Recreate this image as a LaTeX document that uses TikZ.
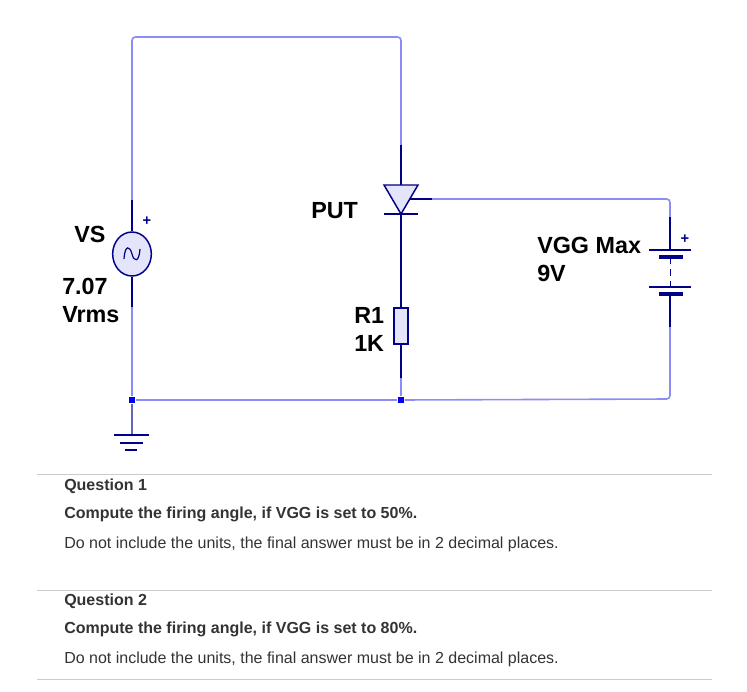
\documentclass[tikz,border=0pt]{standalone}
\usepackage{fontspec}
\setmainfont{Liberation Sans}
\usetikzlibrary{shapes.geometric}
\definecolor{wirecol}{HTML}{8C8CF5}
\definecolor{leadcol}{HTML}{000088}
\definecolor{bodycol}{HTML}{E4E4FA}
\definecolor{rulecol}{HTML}{CCCCCC}
\definecolor{qcol}{HTML}{333333}
\tikzset{
	wire/.style={draw=wirecol, line width=1.2pt, rounded corners=2.5pt},
	lead/.style={draw=leadcol, line width=1.1pt},
	plate/.style={draw=leadcol, line width=1.1pt},
	thickplate/.style={draw=leadcol, line width=3pt},
	dot/.style={fill=blue, inner sep=0pt, minimum size=5pt},
	partlabel/.style={anchor=base west, inner sep=0pt, font=\fontsize{17.5}{20}\selectfont\bfseries, text=black},
	polarity/.style={inner sep=0pt, font=\fontsize{11}{12}\selectfont\bfseries, text=leadcol},
	qhead/.style={anchor=base west, inner sep=0pt, font=\fontsize{12}{14}\selectfont\bfseries, text=qcol},
	qtext/.style={anchor=base west, inner sep=0pt, font=\fontsize{12}{14}\selectfont, text=qcol},
}
\begin{document}
\begin{tikzpicture}[x=0.75pt, y=-0.75pt]
	\useasboundingbox (0,0) rectangle (747,692);
	
	% Junctions
	\node[dot] (Jleft)  at (132,400) {};
	\node[dot] (Jright) at (401,400) {};
	
	% Parts
	\node[ellipse, draw=leadcol, fill=bodycol, line width=1.1pt, inner sep=0pt,
	minimum width=29pt, minimum height=33pt] (VS) at (132,254) {};
	\node[rectangle, draw=leadcol, fill=bodycol, line width=1.1pt, inner sep=0pt,
	minimum width=10.5pt, minimum height=27pt] (R1) at (401,326) {};
	
	\path % Ends of the leads, and the wire corners
	(132,37)  coordinate (TL)
	(401,37)  coordinate (TR)
	(670,199) coordinate (GR)
	(670,399) coordinate (BR)
	(132,200) coordinate (VStop)
	(132,307) coordinate (VSbot)
	(401,145) coordinate (PUTin)
	(401,185) coordinate (PUTtop)
	(401,214) coordinate (PUTbot)
	(410,199) coordinate (PUTgate)
	(432,199) coordinate (PUTgateend)
	(401,378) coordinate (R1end)
	(670,217) coordinate (BATtop)
	(670,327) coordinate (BATbot)
	(132,435) coordinate (GND)
	;
	
	% Light wires
	\draw[wire] (VStop) -- (TL) -- (TR) -- (PUTin);
	\draw[wire] (PUTgateend) -- (GR) -- (BATtop);
	\draw[wire] (BATbot) -- (BR) -- (Jright);
	\draw[wire] (Jright) -- (Jleft);
	\draw[wire] (VSbot) -- (Jleft);
	\draw[wire] (R1end) -- (Jright);
	
	% Source
	\draw[lead] (VStop) -- (VS);
	\draw[lead] (VS) -- (VSbot);
	\draw[lead, line width=0.9pt] (124,259) .. controls (125,244) and (130,246) .. (132,254)
	.. controls (134,262) and (139,263) .. (140,249);
	
	% Thyristor
	\path (384,185) coordinate (PUTtopL) (418,185) coordinate (PUTtopR)
	(384,214) coordinate (PUTbotL) (418,214) coordinate (PUTbotR);
	\draw[lead] (PUTin) -- (PUTtop);
	\draw[lead, fill=bodycol] (PUTtopL) -- (PUTtopR) -- (PUTbot) -- cycle;
	\draw[plate] (PUTbotL) -- (PUTbotR);
	\draw[lead] (PUTgate) -- (PUTgateend);
	\draw[lead] (PUTbot) -- (R1);
	\draw[lead] (R1) -- (R1end);
	
	% Battery
	\path (649,250) coordinate (B1L) (691,250) coordinate (B1R)
	(659,257) coordinate (B2L) (683,257) coordinate (B2R)
	(649,287) coordinate (B3L) (691,287) coordinate (B3R)
	(659,294) coordinate (B4L) (683,294) coordinate (B4R)
	(670,250) coordinate (B1) (670,257) coordinate (B2)
	(670,287) coordinate (B3) (670,294) coordinate (B4);
	\draw[lead] (BATtop) -- (B1);
	\draw[plate] (B1L) -- (B1R);
	\draw[thickplate] (B2L) -- (B2R);
	\draw[draw=leadcol, line width=0.7pt, dash pattern=on 5pt off 4pt] (B2) -- (B3);
	\draw[plate] (B3L) -- (B3R);
	\draw[thickplate] (B4L) -- (B4R);
	\draw[lead] (B4) -- (BATbot);
	
	% Ground
	\path (114,435) coordinate (G1L) (149,435) coordinate (G1R)
	(120,443) coordinate (G2L) (143,443) coordinate (G2R)
	(125,450) coordinate (G3L) (137,450) coordinate (G3R);
	\draw[lead, draw=leadcol!60] (Jleft) -- (GND);
	\draw[plate] (G1L) -- (G1R);
	\draw[plate] (G2L) -- (G2R);
	\draw[plate] (G3L) -- (G3R);
	
	% Labels of the parts
	\node[polarity] (VSplus)  at (147,221) {+};
	\node[polarity] (BATplus) at (685,239) {+};
	\node[partlabel] (VSname) at (74,243)  {VS};
	\node[partlabel] (VSval)  at (62,294)  {7.07};
	\node[partlabel] (VSunit) at (62,322)  {Vrms};
	\node[partlabel] (PUTname) at (311,219) {PUT};
	\node[partlabel] (R1name) at (354,323) {R1};
	\node[partlabel] (R1val)  at (354,351) {1K};
	\node[partlabel] (BATname) at (537,253) {VGG Max};
	\node[partlabel] (BATval) at (537,281) {9V};
	
	% Rules between the questions
	\path (37,474) coordinate (RaL) (712,474) coordinate (RaR)
	(37,590) coordinate (RbL) (712,590) coordinate (RbR)
	(37,679) coordinate (RcL) (712,679) coordinate (RcR);
	\draw[rulecol, line width=0.75pt] (RaL) -- (RaR);
	\draw[rulecol, line width=0.75pt] (RbL) -- (RbR);
	\draw[rulecol, line width=0.75pt] (RcL) -- (RcR);
	
	% Question text
	\node[qhead] (Qa)  at (64,490) {Question 1};
	\node[qhead] (Qb)  at (64,518) {Compute the firing angle, if VGG is set to 50\%.};
	\node[qtext] (Qc)  at (64,548) {Do not include the units, the final answer must be in 2 decimal places.};
	\node[qhead] (Qd)  at (64,605) {Question 2};
	\node[qhead] (Qe)  at (64,633) {Compute the firing angle, if VGG is set to 80\%.};
	\node[qtext] (Qf)  at (64,663) {Do not include the units, the final answer must be in 2 decimal places.};
\end{tikzpicture}
\end{document}
